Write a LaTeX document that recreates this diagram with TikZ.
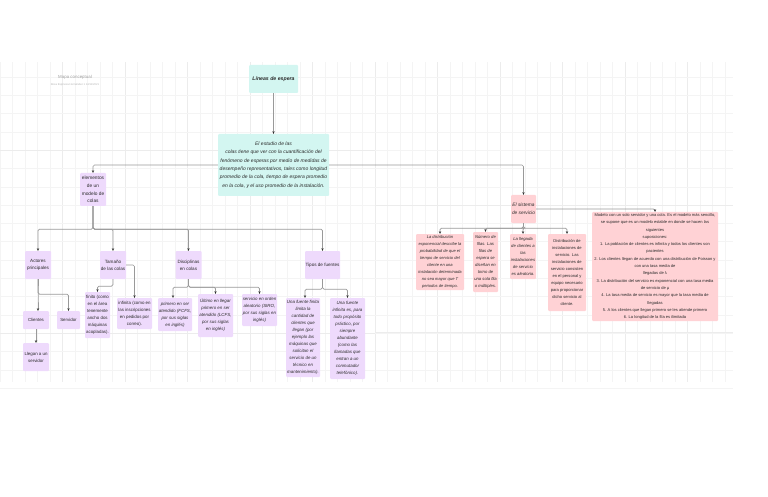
\documentclass[tikz,border=0pt]{standalone}
\usepackage{fontspec}
\setmainfont{Liberation Sans}
\usetikzlibrary{arrows.meta}
\definecolor{tealbox}{HTML}{D3F6F1}
\definecolor{lilac}{HTML}{EEDAFC}
\definecolor{rosebox}{HTML}{FFD2D5}
\definecolor{txt}{HTML}{2A2A2A}
\definecolor{gridc}{HTML}{F4F4F4}
\definecolor{gridm}{HTML}{ECECEC}
\definecolor{conn}{HTML}{999999}
\tikzset{
  box/.style={rounded corners=1pt,inner sep=0pt,align=center,text=txt,font=\fontsize{4.4}{7}\selectfont},
  lbox/.style={box,fill=lilac},
  rbox/.style={box,fill=rosebox},
  tbox/.style={box,fill=tealbox},
  link/.style={draw=conn,line width=.65pt,rounded corners=1.5pt,-{Stealth[length=2.6pt,width=2.4pt,color=txt]}},
  size/.style n args={2}{minimum width=#1,minimum height=#2}
}
\begin{document}
\begin{tikzpicture}[x=1pt,y=-1pt]
\useasboundingbox (0,0) rectangle (768,497);
% grid
\foreach \i in {0,...,58}{
  \pgfmathsetmacro{\gx}{\i*12.5}
  \draw[gridc,line width=.4pt] (\gx,62) -- (\gx,382);
}
\foreach \i in {1,...,11}{
  \pgfmathsetmacro{\gx}{\i*62.5}
  \draw[gridm,line width=.5pt] (\gx,62) -- (\gx,382);
}
\foreach \i in {0,...,17}{
  \pgfmathsetmacro{\gy}{77+\i*18.3}
  \draw[gridc,line width=.5pt] (0,\gy) -- (733,\gy);
}
\draw[gridm,line width=.8pt] (0,150) -- (375,150);
\draw[gridm,line width=.8pt] (0,333) -- (375,333);
\draw[gridm,line width=.6pt] (375,205) -- (733,205);
\draw[gridm,line width=.6pt] (375,332) -- (733,332);
% heading
\node[text=gray!75,font=\fontsize{4.4}{5}\selectfont] (maptitle) at (75,77) {Mapa conceptual};
\node[text=gray!60,font=\fontsize{2.7}{3}\selectfont] (mapsub) at (75,84.5) {Rosa Espinoza Hernández  1 14/11/2021};
% teal
\node[tbox,size={49pt}{28pt},font=\fontsize{5.2}{7}\selectfont\bfseries\itshape] (title) at (273.5,79) {Líneas de espera};
\node[tbox,size={111pt}{62pt},font=\fontsize{5}{8.3}\selectfont\itshape] (study) at (273.5,165) {El estudio de las\\colas tiene que ver con la cuantificación del\\fenómeno de esperas por medio de medidas de\\desempeño representativos, tales como longitud\\promedio de la cola, tiempo de espera promedio\\en la cola, y el uso promedio de la instalación.};
% lilac
\node[lbox,size={26pt}{33pt},font=\fontsize{4.8}{7.7}\selectfont] (elem) at (93,189.5) {elementos\\de un\\modelo de\\colas};
\node[lbox,size={26pt}{28pt},font=\fontsize{4.6}{7}\selectfont] (actors) at (38,265) {Actores\\principales};
\node[lbox,size={26pt}{28pt},font=\fontsize{4.6}{7}\selectfont] (sizeq) at (113,265) {Tamaño\\de las colas};
\node[lbox,size={26pt}{28pt},font=\fontsize{4.6}{7}\selectfont] (disc) at (188.5,265) {Disciplinas\\en colas};
\node[lbox,size={35pt}{28pt},font=\fontsize{4.6}{7}\selectfont] (types) at (322.5,265) {Tipos de fuentes};
\node[lbox,size={26pt}{18pt}] (clients) at (36,320) {Clientes};
\node[lbox,size={23pt}{18pt}] (server) at (68.5,320) {Servidor};
\node[lbox,size={26pt}{28pt}] (arrive) at (36,357) {Llegan a un\\servidor};
\node[lbox,size={25pt}{46pt}] (finite) at (97.5,315) {finito (como\\en el área\\tenemente\\ancho dos\\máquinas\\acopladas).};
\node[lbox,size={35pt}{31pt}] (infinite) at (134.5,313.5) {infinita (como en\\las inscripciones\\en pedidos por\\correo).};
\node[lbox,size={34pt}{33pt},font=\fontsize{4.4}{7}\selectfont\itshape] (fcfs) at (175,314.5) {primero en ser\\atendido (FCFS,\\por sus siglas\\en inglés)};
\node[lbox,size={35pt}{43pt},font=\fontsize{4.4}{7}\selectfont\itshape] (lcfs) at (215.5,315.5) {Último en llegar\\primero en ser\\atendido (LCFS,\\por sus siglas\\en inglés)};
\node[lbox,size={35pt}{32pt},font=\fontsize{4.4}{7}\selectfont\itshape] (siro) at (259.5,310) {servicio en orden\\aleatorio (SIRO,\\por sus siglas en\\inglés)};
\node[lbox,size={34pt}{79pt},font=\fontsize{4.4}{7}\selectfont\itshape] (finsrc) at (303,337.5) {Una fuente finita\\limita la\\cantidad de\\clientes que\\llegan (por\\ejemplo las\\máquinas que\\solicitan el\\servicio de un\\técnico en\\mantenimiento).};
\node[lbox,size={35pt}{81pt},font=\fontsize{4.4}{7}\selectfont\itshape] (infsrc) at (347.5,338.5) {Una fuente\\infinita es, para\\todo propósito\\práctico, por\\siempre\\abundante\\(como las\\llamadas que\\entran a un\\conmutador\\telefónico).};
% rose
\node[rbox,size={25pt}{28pt},font=\fontsize{4.8}{7.5}\selectfont\itshape] (sys) at (523.5,209) {El sistema\\de servicio};
\node[rbox,size={48pt}{56pt},font=\fontsize{4.1}{7}\selectfont\itshape] (expo) at (440,262) {La distribución\\exponencial describe la\\probabilidad de que el\\tiempo de servicio del\\cliente en una\\instalación determinada\\no sea mayor que T\\periodos de tiempo.};
\node[rbox,size={25pt}{60pt},font=\fontsize{4.2}{7}\selectfont\itshape] (rows) at (485.5,262) {Número de\\filas. Las\\filas de\\espera se\\diseñan en\\torno de\\una sola fila\\o múltiples.};
\node[rbox,size={26pt}{45pt},font=\fontsize{4.2}{7}\selectfont\itshape] (arrival) at (523,256.5) {La llegada\\de clientes a\\las\\instalaciones\\de servicio\\es aleatoria.};
\node[rbox,size={38pt}{77pt},font=\fontsize{4.1}{7}\selectfont] (facil) at (567,272.5) {Distribución de\\instalaciones de\\servicio. Las\\instalaciones de\\servicio consisten\\en el personal y\\equipo necesario\\para proporcionar\\dicho servicio al\\cliente.};
\node[rbox,size={126pt}{109pt},font=\fontsize{4.05}{7.3}\selectfont] (model) at (655,266.5) {Modelo con un solo servidor y una cola. Es el modelo más sencillo,\\se supone que es un modelo estable en donde se hacen las\\siguientes\\suposiciones:\\1. La población de clientes es infinita y todos los clientes son\\pacientes\\2. Los clientes llegan de acuerdo con una distribución de Poisson y\\con una tasa media de\\llegadas de λ\\3. La distribución del servicio es exponencial con una tasa media\\de servicio de µ\\4. La tasa media de servicio es mayor que la tasa media de\\llegadas\\5. A los clientes que llegan primero se les atiende primero\\6. La longitud de la fila es ilimitada};
% connectors
\draw[link] (title.south) -- (study.north);
\draw[link] (study.west) -| (elem.north);
\draw[link] (study.east) -| (sys.north);
\foreach \t in {actors,sizeq,disc,types}{
  \draw[link] (elem.south) -- ++(0,23) -| (\t.north);
}
\draw[link] (actors.south) -- ++(0,15) -| (clients.north -| actors.south);
\draw[link] (actors.south) -- ++(0,15) -| (server.north);
\draw[link] (clients.south) -- (arrive.north);
\draw[link] (sizeq.south) -- ++(0,7) -| (finite.north);
\draw[link] (sizeq.east) -| (infinite.north);
\draw[link] (disc.south) -- ++(0,8) -| (fcfs.north -| 173,0);
\draw[link] (disc.south) -- ++(0,8) -| (lcfs.north);
\draw[link] (disc.south) -- ++(0,8) -| (siro.north);
\draw[link] (types.south) -- ++(0,10) -| (finsrc.north -| 305,0);
\draw[link] (types.south) -- ++(0,10) -| (infsrc.north);
\foreach \t in {expo,rows,arrival,facil}{
  \draw[link] (sys.south) -- ++(0,5) -| (\t.north);
}
\draw[link] (sys.east) -| (model.north);
\end{tikzpicture}
\end{document}
